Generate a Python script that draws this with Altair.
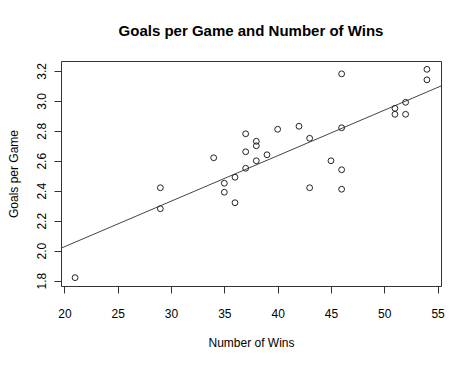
import altair as alt
import pandas as pd

# Data
wins = [21, 29, 29, 34, 35, 35, 36, 36, 37, 37, 37, 38, 38, 38, 39, 40, 42, 43, 43,
        45, 46, 46, 46, 46, 51, 51, 52, 52, 54, 54]
gpg = [1.82, 2.42, 2.28, 2.62, 2.45, 2.39, 2.49, 2.32, 2.78, 2.66, 2.55, 2.73, 2.70,
       2.60, 2.64, 2.81, 2.83, 2.75, 2.42, 2.60, 3.18, 2.82, 2.54, 2.41, 2.95, 2.91,
       2.99, 2.91, 3.21, 3.14]
x_ticks = [20, 25, 30, 35, 40, 45, 50, 55]
y_ticks = [1.8, 2.0, 2.2, 2.4, 2.6, 2.8, 3.0, 3.2]

# R-style 4% axis extension
def ext(lo, hi):
    r = hi - lo
    return [lo - 0.04 * r, hi + 0.04 * r]

x_domain = ext(min(wins), max(wins))
y_domain = ext(min(gpg), max(gpg))

df = pd.DataFrame({"wins": wins, "gpg": gpg})

FONT = "Liberation Sans"

x_enc = alt.X(
    "wins:Q",
    scale=alt.Scale(domain=x_domain, nice=False, zero=False),
    axis=alt.Axis(
        values=x_ticks, format="d", title="Number of Wins", grid=False, domain=False,
        labelBaseline="alphabetic", labelPadding=24,
        titleX=190, titleY=60, titleBaseline="alphabetic", titleAlign="center",
        titleFontWeight="normal",
    ),
)
y_enc = alt.Y(
    "gpg:Q",
    scale=alt.Scale(domain=y_domain, nice=False, zero=False),
    axis=alt.Axis(
        values=y_ticks, format=".1f", title="Goals per Game", grid=False, domain=False,
        labelAngle=270, labelAlign="center", labelBaseline="alphabetic", labelPadding=9,
        titleAngle=270, titleX=-44, titleY=112.5, titleBaseline="alphabetic",
        titleAlign="center", titleFontWeight="normal",
    ),
)

points = alt.Chart(df).mark_point(
    shape="circle", filled=False, size=34, strokeWidth=1, color="#222222", opacity=1
).encode(x=x_enc, y=y_enc)

line = alt.Chart(df).transform_regression(
    "wins", "gpg", extent=x_domain
).mark_line(color="#444444", strokeWidth=1).encode(x=x_enc, y=y_enc)

chart = (
    alt.layer(line, points)
    .properties(
        width=380,
        height=225,
        background="white",
        autosize=alt.AutoSizeParams(type="none"),
        padding={"left": 53, "top": 53, "right": 18, "bottom": 62},
        title=alt.TitleParams(
            "Goals per Game and Number of Wins",
            font=FONT, fontSize=15, fontWeight="bold", color="black",
            anchor="middle", frame="group", offset=10, baseline="alphabetic",
        ),
    )
    .configure_view(stroke="#333333", strokeWidth=1)
    .configure_axis(
        domain=False, grid=False, tickColor="#333333", tickSize=7, tickWidth=1,
        labelFont=FONT, labelFontSize=12, labelColor="black",
        titleFont=FONT, titleFontSize=12, titleFontWeight="normal", titleColor="black",
    )
)

chart.save("out.html", embed_options={"renderer": "svg", "actions": False})
